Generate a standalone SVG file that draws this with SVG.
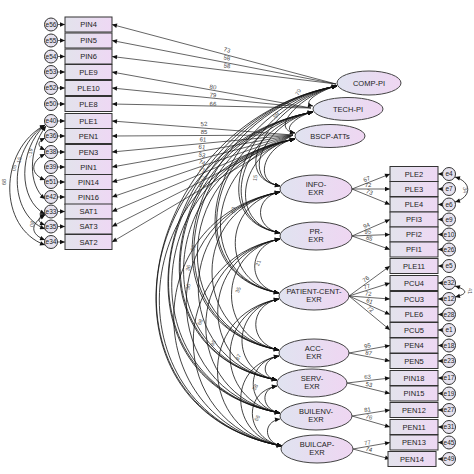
<svg xmlns="http://www.w3.org/2000/svg" width="474" height="474" viewBox="0 0 474 474">
<defs>
<linearGradient id="gb" x1="0" y1="0" x2="1" y2="0"><stop offset="0" stop-color="#e3e3ec"/><stop offset="1" stop-color="#eed8f4"/></linearGradient>
<linearGradient id="ge" x1="0" y1="0" x2="1" y2="0"><stop offset="0" stop-color="#e0e3f0"/><stop offset="1" stop-color="#efd6f2"/></linearGradient>
<marker id="ah" viewBox="0 0 10 10" refX="10" refY="5" markerWidth="6" markerHeight="5" markerUnits="userSpaceOnUse" orient="auto-start-reverse"><path d="M0,0.5 L10,5 L0,9.5 z" fill="#111"/></marker>
<style>
.box{fill:url(#gb);stroke:#333;stroke-width:1}
.lat{fill:url(#ge);stroke:#444;stroke-width:1}
.err{fill:#e6e2ee;stroke:#333;stroke-width:1}
.t{font-family:"Liberation Sans",Arial,sans-serif;font-size:7.5px;fill:#222;text-anchor:middle}
.te{font-family:"Liberation Sans",Arial,sans-serif;font-size:6.5px;fill:#222;text-anchor:middle}
.tl{font-family:"Liberation Sans",Arial,sans-serif;font-size:6px;fill:#444;text-anchor:middle}
.tc{font-family:"Liberation Sans",Arial,sans-serif;font-size:5.5px;fill:#555;text-anchor:middle}
.ld{stroke:#222;stroke-width:0.7;fill:none;marker-end:url(#ah)}
.cv{stroke:#111;stroke-width:0.8;fill:none;marker-start:url(#ah);marker-end:url(#ah)}
</style>
</defs>

<g id="connectors">
<!-- left loadings -->
<path class="ld" d="M336,84 L112,24.5"/>
<path class="ld" d="M336,84 L112,40.5"/>
<path class="ld" d="M336,84 L112,56.5"/>
<path class="ld" d="M311,108 L112,72"/>
<path class="ld" d="M311,108 L112,88"/>
<path class="ld" d="M311,108 L112,104"/>
<path class="ld" d="M293,135 L112,121"/>
<path class="ld" d="M293,135 L112,136"/>
<path class="ld" d="M293,135 L112,152"/>
<path class="ld" d="M293,135 L112,167"/>
<path class="ld" d="M293,135 L112,182"/>
<path class="ld" d="M293,135 L112,197"/>
<path class="ld" d="M293,135 L112,211.5"/>
<path class="ld" d="M293,135 L112,226.5"/>
<path class="ld" d="M293,135 L112,242"/>
<!-- right loadings -->
<path class="ld" d="M352,189 L390,174"/>
<path class="ld" d="M352,189 L390,189"/>
<path class="ld" d="M352,189 L390,204.5"/>
<path class="ld" d="M352,236 L390,219.5"/>
<path class="ld" d="M352,236 L390,234.5"/>
<path class="ld" d="M352,236 L390,249.5"/>
<path class="ld" d="M349,296 L390,266"/>
<path class="ld" d="M349,296 L390,283"/>
<path class="ld" d="M349,296 L390,299"/>
<path class="ld" d="M349,296 L390,314.5"/>
<path class="ld" d="M349,296 L390,330"/>
<path class="ld" d="M349,353 L390,345.5"/>
<path class="ld" d="M349,353 L390,361"/>
<path class="ld" d="M347,383 L390,378"/>
<path class="ld" d="M347,383 L390,393.5"/>
<path class="ld" d="M352,416 L390,410"/>
<path class="ld" d="M352,416 L390,427"/>
<path class="ld" d="M353,449 L390,442.5"/>
<path class="ld" d="M353,449 L390,459"/>
<!-- error arrows left -->
<path class="ld" d="M57.5,24.5 L65,24.5"/>
<path class="ld" d="M57.5,40.5 L65,40.5"/>
<path class="ld" d="M57.5,56.5 L65,56.5"/>
<path class="ld" d="M57.5,72 L65,72"/>
<path class="ld" d="M57.5,88 L65,88"/>
<path class="ld" d="M57.5,104 L65,104"/>
<path class="ld" d="M57.5,121 L65,121"/>
<path class="ld" d="M57.5,136 L65,136"/>
<path class="ld" d="M57.5,152 L65,152"/>
<path class="ld" d="M57.5,167 L65,167"/>
<path class="ld" d="M57.5,182 L65,182"/>
<path class="ld" d="M57.5,197 L65,197"/>
<path class="ld" d="M57.5,211.5 L65,211.5"/>
<path class="ld" d="M57.5,226.5 L65,226.5"/>
<path class="ld" d="M57.5,242 L65,242"/>
<!-- error arrows right -->
<path class="ld" d="M442.5,174 L438,174"/>
<path class="ld" d="M442.5,189 L438,189"/>
<path class="ld" d="M442.5,204.5 L438,204.5"/>
<path class="ld" d="M442.5,219.5 L438,219.5"/>
<path class="ld" d="M442.5,234.5 L438,234.5"/>
<path class="ld" d="M442.5,249.5 L438,249.5"/>
<path class="ld" d="M442.5,266 L438,266"/>
<path class="ld" d="M442.5,283 L438,283"/>
<path class="ld" d="M442.5,299 L438,299"/>
<path class="ld" d="M442.5,314.5 L438,314.5"/>
<path class="ld" d="M442.5,330 L438,330"/>
<path class="ld" d="M442.5,345.5 L438,345.5"/>
<path class="ld" d="M442.5,361 L438,361"/>
<path class="ld" d="M442.5,378 L438,378"/>
<path class="ld" d="M442.5,393.5 L438,393.5"/>
<path class="ld" d="M442.5,410 L438,410"/>
<path class="ld" d="M442.5,427 L438,427"/>
<path class="ld" d="M442.5,442.5 L438,442.5"/>
<path class="ld" d="M442.5,459 L438,459"/>
<!-- error covariances left -->
<path class="cv" d="M45,125 C-2,150 -2,228 45,245"/>
<path class="cv" d="M45,125 C8,150 8,214 45,229"/>
<path class="cv" d="M45,125 C18,150 18,200 45,214"/>
<path class="cv" d="M46,126 C28,150 28,185 45,199"/>
<path class="cv" d="M45,138 C37,142 37,146 45,150"/>
<path class="cv" d="M45,154 C30,162 30,174 45,180"/>
<path class="cv" d="M45,214 C37,218 37,222 45,225"/>
<path class="cv" d="M45,215 C30,224 30,234 45,240"/>
<!-- error covariances right -->
<path class="cv" d="M455,177 C472,182 472,197 455,202"/>
<path class="cv" d="M455,286 C468,290 468,294 455,297"/>
<!-- latent correlations -->
<path class="cv" d="M337,86 C323,89 299,103 313,106"/>
<path class="cv" d="M337,86 C308,91 266,128 295,133"/>
<path class="cv" d="M337,86 C279,97 222,175 280,186"/>
<path class="cv" d="M337,86 C253,101 196,218 280,233"/>
<path class="cv" d="M337,86 C220,107 162,272 279,293"/>
<path class="cv" d="M337,86 C188,113 130,323 279,350"/>
<path class="cv" d="M337,86 C172,116 112,350 277,380"/>
<path class="cv" d="M337,86 C154,119 97,380 280,413"/>
<path class="cv" d="M337,86 C136,123 81,409 282,446"/>
<path class="cv" d="M313,112 C298,115 280,130 295,133"/>
<path class="cv" d="M313,112 C269,120 236,178 280,186"/>
<path class="cv" d="M313,112 C243,125 210,220 280,233"/>
<path class="cv" d="M313,112 C210,131 176,274 279,293"/>
<path class="cv" d="M313,112 C179,136 145,326 279,350"/>
<path class="cv" d="M313,112 C162,139 126,353 277,380"/>
<path class="cv" d="M313,112 C144,143 111,382 280,413"/>
<path class="cv" d="M313,112 C126,146 95,412 282,446"/>
<path class="cv" d="M295,139 C266,144 251,181 280,186"/>
<path class="cv" d="M295,139 C240,149 225,223 280,233"/>
<path class="cv" d="M295,139 C207,155 191,277 279,293"/>
<path class="cv" d="M295,139 C176,161 160,328 279,350"/>
<path class="cv" d="M295,139 C159,164 141,355 277,380"/>
<path class="cv" d="M295,139 C141,167 126,385 280,413"/>
<path class="cv" d="M295,139 C123,170 110,415 282,446"/>
<path class="cv" d="M280,192 C254,197 254,228 280,233"/>
<path class="cv" d="M280,192 C221,203 220,282 279,293"/>
<path class="cv" d="M280,192 C190,208 189,334 279,350"/>
<path class="cv" d="M280,192 C173,211 170,361 277,380"/>
<path class="cv" d="M280,192 C155,215 155,390 280,413"/>
<path class="cv" d="M280,192 C137,218 139,420 282,446"/>
<path class="cv" d="M280,239 C247,245 246,287 279,293"/>
<path class="cv" d="M280,239 C216,251 215,338 279,350"/>
<path class="cv" d="M280,239 C199,254 196,365 277,380"/>
<path class="cv" d="M280,239 C181,257 181,395 280,413"/>
<path class="cv" d="M280,239 C163,260 165,425 282,446"/>
<path class="cv" d="M279,299 C248,305 248,344 279,350"/>
<path class="cv" d="M279,299 C231,308 229,371 277,380"/>
<path class="cv" d="M279,299 C213,311 214,401 280,413"/>
<path class="cv" d="M279,299 C195,314 198,431 282,446"/>
<path class="cv" d="M279,356 C262,359 260,377 277,380"/>
<path class="cv" d="M279,356 C244,362 245,407 280,413"/>
<path class="cv" d="M279,356 C226,366 229,436 282,446"/>
<path class="cv" d="M277,386 C259,389 262,410 280,413"/>
<path class="cv" d="M277,386 C241,393 246,439 282,446"/>
<path class="cv" d="M280,419 C262,422 264,443 282,446"/>
</g>

<g id="loading-labels">
<text class="tl" x="227" y="52" transform="rotate(15 227 50)">73</text>
<text class="tl" x="227" y="60" transform="rotate(11 227 58)">58</text>
<text class="tl" x="227" y="68" transform="rotate(7 227 66)">58</text>
<text class="tl" x="213" y="89" transform="rotate(10 213 87)">80</text>
<text class="tl" x="213" y="97" transform="rotate(6 213 95)">79</text>
<text class="tl" x="213" y="106" transform="rotate(1 213 104)">66</text>
<text class="tl" x="204" y="126" transform="rotate(-4 204 124)">52</text>
<text class="tl" x="204" y="134">85</text>
<text class="tl" x="203" y="141.5" transform="rotate(5 203 139.5)">61</text>
<text class="tl" x="202" y="149" transform="rotate(10 202 147)">61</text>
<text class="tl" x="202" y="157" transform="rotate(14 202 155)">53</text>
<text class="tl" x="202" y="164.5" transform="rotate(19 202 162.5)">74</text>
<text class="tl" x="202" y="172" transform="rotate(23 202 170)">71</text>
<text class="tl" x="202" y="180" transform="rotate(27 202 178)">72</text>
<text class="tl" x="202" y="188" transform="rotate(30 202 186)">51</text>
<text class="tl" x="368" y="181" transform="rotate(-21 368 182.7)">67</text>
<text class="tl" x="368" y="187.3">72</text>
<text class="tl" x="368" y="193.8" transform="rotate(22 368 195.5)">73</text>
<text class="tl" x="368" y="227.4" transform="rotate(-23 368 229.1)">94</text>
<text class="tl" x="368" y="233.7" transform="rotate(-2 368 235.4)">95</text>
<text class="tl" x="368" y="240" transform="rotate(20 368 241.7)">85</text>
<text class="tl" x="368" y="280.4" transform="rotate(-36 368 282.1)">76</text>
<text class="tl" x="368" y="288.3" transform="rotate(-18 368 290)">77</text>
<text class="tl" x="368" y="295.7" transform="rotate(4 368 297.4)">72</text>
<text class="tl" x="368" y="302.9" transform="rotate(24 368 304.6)">61</text>
<text class="tl" x="368" y="310.1" transform="rotate(40 368 311.8)">72</text>
<text class="tl" x="368" y="347.8" transform="rotate(-10 368 349.5)">95</text>
<text class="tl" x="368" y="355" transform="rotate(11 368 356.7)">87</text>
<text class="tl" x="368" y="378.9" transform="rotate(-7 368 380.6)">63</text>
<text class="tl" x="368" y="386.4" transform="rotate(14 368 388.1)">53</text>
<text class="tl" x="368" y="411.8" transform="rotate(-9 368 413.5)">81</text>
<text class="tl" x="368" y="418.9" transform="rotate(16 368 420.6)">76</text>
<text class="tl" x="368" y="444.7" transform="rotate(-10 368 446.4)">77</text>
<text class="tl" x="368" y="451.3" transform="rotate(15 368 453)">74</text>
</g>

<g id="covariance-labels">
<text class="tc" x="4" y="184" transform="rotate(-90 4 182)">68</text>
<text class="tc" x="14" y="170" transform="rotate(-80 14 168)">05</text>
<text class="tc" x="19" y="162" transform="rotate(-75 19 160)">15</text>
<text class="tc" x="30" y="155" transform="rotate(-80 30 153)">-.19</text>
<text class="tc" x="32" y="226" transform="rotate(-80 32 224)">08</text>
<text class="tc" x="465" y="192" transform="rotate(90 465 190)">34</text>
<text class="tc" x="470" y="293" transform="rotate(90 470 291)">41</text>
<text class="tc" x="298" y="94" transform="rotate(-60 298 92)">70</text>
<text class="tc" x="276" y="117" transform="rotate(-60 276 115)">59</text>
<text class="tc" x="255" y="180" transform="rotate(-80 255 178)">15</text>
<text class="tc" x="233" y="212" transform="rotate(-75 233 210)">63</text>
<text class="tc" x="193" y="250" transform="rotate(-70 193 248)">63</text>
<text class="tc" x="188" y="270" transform="rotate(-75 188 268)">36</text>
<text class="tc" x="188" y="289" transform="rotate(-80 188 287)">36</text>
<text class="tc" x="258" y="265" transform="rotate(-70 258 263)">21</text>
<text class="tc" x="238" y="292" transform="rotate(-70 238 290)">35</text>
<text class="tc" x="200" y="324" transform="rotate(-70 200 322)">68</text>
<text class="tc" x="213" y="345" transform="rotate(-60 213 343)">95</text>
<text class="tc" x="238" y="359" transform="rotate(-60 238 357)">87</text>
<text class="tc" x="255" y="389" transform="rotate(-60 255 387)">58</text>
<text class="tc" x="257" y="420" transform="rotate(-60 257 418)">66</text>
</g>

<g id="left-indicators">
<g id="PIN4"><rect class="box" x="65" y="17" width="47" height="15"/><text class="t" x="88.5" y="27.2">PIN4</text></g>
<g id="PIN5"><rect class="box" x="65" y="33" width="47" height="15"/><text class="t" x="88.5" y="43.2">PIN5</text></g>
<g id="PIN6"><rect class="box" x="65" y="49" width="47" height="15"/><text class="t" x="88.5" y="59.2">PIN6</text></g>
<g id="PLE9"><rect class="box" x="65" y="64.5" width="47" height="15"/><text class="t" x="88.5" y="74.7">PLE9</text></g>
<g id="PLE10"><rect class="box" x="65" y="80.5" width="47" height="15"/><text class="t" x="88.5" y="90.7">PLE10</text></g>
<g id="PLE8"><rect class="box" x="65" y="96.5" width="47" height="15"/><text class="t" x="88.5" y="106.7">PLE8</text></g>
<g id="PLE1"><rect class="box" x="65" y="113.5" width="47" height="15"/><text class="t" x="88.5" y="123.7">PLE1</text></g>
<g id="PEN1"><rect class="box" x="65" y="128.5" width="47" height="15"/><text class="t" x="88.5" y="138.7">PEN1</text></g>
<g id="PEN3"><rect class="box" x="65" y="144.5" width="47" height="15"/><text class="t" x="88.5" y="154.7">PEN3</text></g>
<g id="PIN1"><rect class="box" x="65" y="159.5" width="47" height="15"/><text class="t" x="88.5" y="169.7">PIN1</text></g>
<g id="PIN14"><rect class="box" x="65" y="174.5" width="47" height="15"/><text class="t" x="88.5" y="184.7">PIN14</text></g>
<g id="PIN16"><rect class="box" x="65" y="189.5" width="47" height="15"/><text class="t" x="88.5" y="199.7">PIN16</text></g>
<g id="SAT1"><rect class="box" x="65" y="204" width="47" height="15"/><text class="t" x="88.5" y="214.2">SAT1</text></g>
<g id="SAT3"><rect class="box" x="65" y="219" width="47" height="15"/><text class="t" x="88.5" y="229.2">SAT3</text></g>
<g id="SAT2"><rect class="box" x="65" y="234.5" width="47" height="15"/><text class="t" x="88.5" y="244.7">SAT2</text></g>
</g>

<g id="left-errors">
<g id="e56"><circle class="err" cx="51" cy="24.5" r="6.5"/><text class="te" x="51" y="26.8">e56</text></g>
<g id="e55"><circle class="err" cx="51" cy="40.5" r="6.5"/><text class="te" x="51" y="42.8">e55</text></g>
<g id="e54"><circle class="err" cx="51" cy="56.5" r="6.5"/><text class="te" x="51" y="58.8">e54</text></g>
<g id="e53"><circle class="err" cx="51" cy="72" r="6.5"/><text class="te" x="51" y="74.3">e53</text></g>
<g id="e52"><circle class="err" cx="51" cy="88" r="6.5"/><text class="te" x="51" y="90.3">e52</text></g>
<g id="e50"><circle class="err" cx="51" cy="104" r="6.5"/><text class="te" x="51" y="106.3">e50</text></g>
<g id="e40"><circle class="err" cx="51" cy="121" r="6.5"/><text class="te" x="51" y="123.3">e40</text></g>
<g id="e36"><circle class="err" cx="51" cy="136" r="6.5"/><text class="te" x="51" y="138.3">e36</text></g>
<g id="e38"><circle class="err" cx="51" cy="152" r="6.5"/><text class="te" x="51" y="154.3">e38</text></g>
<g id="e39"><circle class="err" cx="51" cy="167" r="6.5"/><text class="te" x="51" y="169.3">e39</text></g>
<g id="e51"><circle class="err" cx="51" cy="182" r="6.5"/><text class="te" x="51" y="184.3">e51</text></g>
<g id="e42"><circle class="err" cx="51" cy="197" r="6.5"/><text class="te" x="51" y="199.3">e42</text></g>
<g id="e33"><circle class="err" cx="51" cy="211.5" r="6.5"/><text class="te" x="51" y="213.8">e33</text></g>
<g id="e35"><circle class="err" cx="51" cy="226.5" r="6.5"/><text class="te" x="51" y="228.8">e35</text></g>
<g id="e34"><circle class="err" cx="51" cy="242" r="6.5"/><text class="te" x="51" y="244.3">e34</text></g>
</g>

<g id="right-indicators">
<g id="PLE2"><rect class="box" x="390" y="166.5" width="48" height="15"/><text class="t" x="414" y="176.7">PLE2</text></g>
<g id="PLE3"><rect class="box" x="390" y="181.5" width="48" height="15"/><text class="t" x="414" y="191.7">PLE3</text></g>
<g id="PLE4"><rect class="box" x="390" y="197" width="48" height="15"/><text class="t" x="414" y="207.2">PLE4</text></g>
<g id="PFI3"><rect class="box" x="390" y="212" width="48" height="15"/><text class="t" x="414" y="222.2">PFI3</text></g>
<g id="PFI2"><rect class="box" x="390" y="227" width="48" height="15"/><text class="t" x="414" y="237.2">PFI2</text></g>
<g id="PFI1"><rect class="box" x="390" y="242" width="48" height="15"/><text class="t" x="414" y="252.2">PFI1</text></g>
<g id="PLE11"><rect class="box" x="390" y="258.5" width="48" height="15"/><text class="t" x="414" y="268.7">PLE11</text></g>
<g id="PCU4"><rect class="box" x="390" y="275.5" width="48" height="15"/><text class="t" x="414" y="285.7">PCU4</text></g>
<g id="PCU3"><rect class="box" x="390" y="291.5" width="48" height="15"/><text class="t" x="414" y="301.7">PCU3</text></g>
<g id="PLE6"><rect class="box" x="390" y="307" width="48" height="15"/><text class="t" x="414" y="317.2">PLE6</text></g>
<g id="PCU5"><rect class="box" x="390" y="322.5" width="48" height="15"/><text class="t" x="414" y="332.7">PCU5</text></g>
<g id="PEN4"><rect class="box" x="390" y="338" width="48" height="15"/><text class="t" x="414" y="348.2">PEN4</text></g>
<g id="PEN5"><rect class="box" x="390" y="353.5" width="48" height="15"/><text class="t" x="414" y="363.7">PEN5</text></g>
<g id="PIN18"><rect class="box" x="390" y="370.5" width="48" height="15"/><text class="t" x="414" y="380.7">PIN18</text></g>
<g id="PIN15"><rect class="box" x="390" y="386" width="48" height="15"/><text class="t" x="414" y="396.2">PIN15</text></g>
<g id="PEN12"><rect class="box" x="390" y="402.5" width="48" height="15"/><text class="t" x="414" y="412.7">PEN12</text></g>
<g id="PEN11"><rect class="box" x="390" y="419.5" width="48" height="15"/><text class="t" x="414" y="429.7">PEN11</text></g>
<g id="PEN13"><rect class="box" x="390" y="435" width="48" height="15"/><text class="t" x="414" y="445.2">PEN13</text></g>
<g id="PEN14"><rect class="box" x="388" y="451.5" width="48" height="15"/><text class="t" x="412" y="461.7">PEN14</text></g>
</g>

<g id="right-errors">
<g id="e4"><circle class="err" cx="449" cy="174" r="6.5"/><text class="te" x="449" y="176.3">e4</text></g>
<g id="e7"><circle class="err" cx="449" cy="189" r="6.5"/><text class="te" x="449" y="191.3">e7</text></g>
<g id="e6"><circle class="err" cx="449" cy="204.5" r="6.5"/><text class="te" x="449" y="206.8">e6</text></g>
<g id="e9"><circle class="err" cx="449" cy="219.5" r="6.5"/><text class="te" x="449" y="221.8">e9</text></g>
<g id="e10"><circle class="err" cx="449" cy="234.5" r="6.5"/><text class="te" x="449" y="236.8">e10</text></g>
<g id="e26"><circle class="err" cx="449" cy="249.5" r="6.5"/><text class="te" x="449" y="251.8">e26</text></g>
<g id="e5"><circle class="err" cx="449" cy="266" r="6.5"/><text class="te" x="449" y="268.3">e5</text></g>
<g id="e32"><circle class="err" cx="449" cy="283" r="6.5"/><text class="te" x="449" y="285.3">e32</text></g>
<g id="e12"><circle class="err" cx="449" cy="299" r="6.5"/><text class="te" x="449" y="301.3">e12</text></g>
<g id="e28"><circle class="err" cx="449" cy="314.5" r="6.5"/><text class="te" x="449" y="316.8">e28</text></g>
<g id="e1"><circle class="err" cx="449" cy="330" r="6.5"/><text class="te" x="449" y="332.3">e1</text></g>
<g id="e18"><circle class="err" cx="449" cy="345.5" r="6.5"/><text class="te" x="449" y="347.8">e18</text></g>
<g id="e23"><circle class="err" cx="449" cy="361" r="6.5"/><text class="te" x="449" y="363.3">e23</text></g>
<g id="e17"><circle class="err" cx="449" cy="378" r="6.5"/><text class="te" x="449" y="380.3">e17</text></g>
<g id="e19"><circle class="err" cx="449" cy="393.5" r="6.5"/><text class="te" x="449" y="395.8">e19</text></g>
<g id="e27"><circle class="err" cx="449" cy="410" r="6.5"/><text class="te" x="449" y="412.3">e27</text></g>
<g id="e31"><circle class="err" cx="449" cy="427" r="6.5"/><text class="te" x="449" y="429.3">e31</text></g>
<g id="e45"><circle class="err" cx="449" cy="442.5" r="6.5"/><text class="te" x="449" y="444.8">e45</text></g>
<g id="e49"><circle class="err" cx="449" cy="459" r="6.5"/><text class="te" x="449" y="461.3">e49</text></g>
</g>

<g id="latents">
<g id="COMP-PI"><ellipse class="lat" cx="369" cy="83" rx="32" ry="12"/><text class="t" x="369" y="85.7">COMP-PI</text></g>
<g id="TECH-PI"><ellipse class="lat" cx="348" cy="109" rx="35" ry="11.5"/><text class="t" x="348" y="111.7">TECH-PI</text></g>
<g id="BSCP-ATTs"><ellipse class="lat" cx="330" cy="136" rx="35" ry="11.5"/><text class="t" x="330" y="138.7">BSCP-ATTs</text></g>
<g id="INFO-EXR"><ellipse class="lat" cx="316" cy="189" rx="36" ry="14"/><text class="t" x="316" y="187">INFO-</text><text class="t" x="316" y="195">EXR</text></g>
<g id="PR-EXR"><ellipse class="lat" cx="316" cy="236" rx="36" ry="14"/><text class="t" x="316" y="234">PR-</text><text class="t" x="316" y="242">EXR</text></g>
<g id="PATIENT-CENT-EXR"><ellipse class="lat" cx="314" cy="296" rx="35" ry="14"/><text class="t" x="314" y="294">PATIENT-CENT-</text><text class="t" x="314" y="302">EXR</text></g>
<g id="ACC-EXR"><ellipse class="lat" cx="314" cy="353" rx="35" ry="14"/><text class="t" x="314" y="351">ACC-</text><text class="t" x="314" y="359">EXR</text></g>
<g id="SERV-EXR"><ellipse class="lat" cx="312" cy="383" rx="35" ry="14"/><text class="t" x="312" y="381">SERV-</text><text class="t" x="312" y="389">EXR</text></g>
<g id="BUILENV-EXR"><ellipse class="lat" cx="316" cy="416" rx="36" ry="14"/><text class="t" x="316" y="414">BUILENV-</text><text class="t" x="316" y="422">EXR</text></g>
<g id="BUILCAP-EXR"><ellipse class="lat" cx="317" cy="449" rx="36" ry="14"/><text class="t" x="317" y="447">BUILCAP-</text><text class="t" x="317" y="455">EXR</text></g>
</g>
</svg>
